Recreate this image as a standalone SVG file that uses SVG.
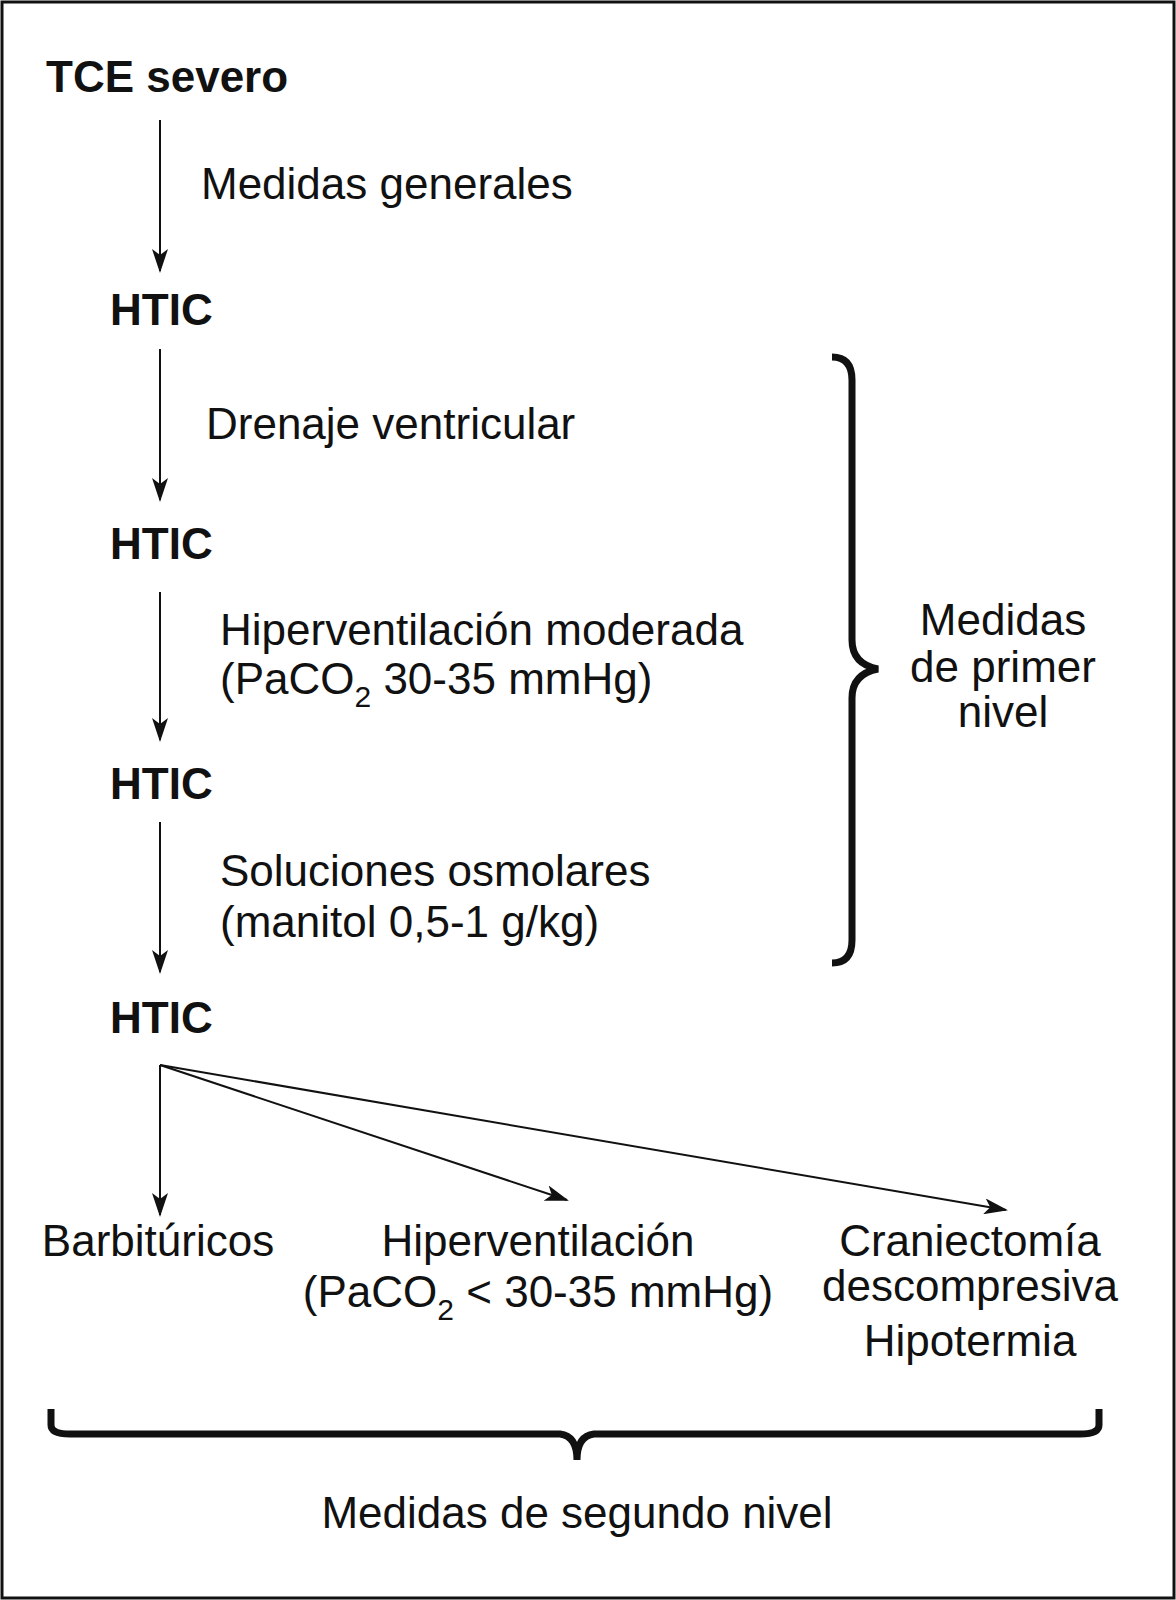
<svg xmlns="http://www.w3.org/2000/svg" width="1176" height="1600" viewBox="0 0 1176 1600">
<style>
text{font-family:"Liberation Sans",Arial,sans-serif;font-size:44px;fill:#111}
.b{font-weight:bold;font-size:44px}
.c{text-anchor:middle}
.l{stroke:#111;stroke-width:2;fill:none}
.br{stroke:#111;stroke-width:7;fill:none}
</style>
<defs><marker id="a" markerWidth="24" markerHeight="16" refX="22" refY="8" orient="auto" markerUnits="userSpaceOnUse"><path d="M0,0 L24,8 L0,16 L6,8 Z" fill="#111"/></marker></defs>
<rect x="2" y="2" width="1172" height="1596" fill="#fff" stroke="#111" stroke-width="3"/>
<g id="n1"><text class="b" x="46" y="92">TCE severo</text></g>
<g id="n2"><text class="b" x="110" y="325">HTIC</text></g>
<g id="n3"><text class="b" x="110" y="559">HTIC</text></g>
<g id="n4"><text class="b" x="110" y="799">HTIC</text></g>
<g id="n5"><text class="b" x="110" y="1033">HTIC</text></g>
<g id="labels">
<text x="201" y="199">Medidas generales</text>
<text x="206" y="439">Drenaje ventricular</text>
<text x="220" y="645">Hiperventilación moderada</text>
<text x="220" y="694">(PaCO<tspan font-size="30" dy="13">2</tspan><tspan dy="-13"> 30-35 mmHg)</tspan></text>
<text x="220" y="886">Soluciones osmolares</text>
<text x="220" y="937">(manitol 0,5-1 g/kg)</text>
</g>
<g id="n6"><text class="c" x="158" y="1256">Barbitúricos</text></g>
<g id="n7"><text class="c" x="538" y="1256">Hiperventilación</text>
<text class="c" x="538" y="1307">(PaCO<tspan font-size="30" dy="13">2</tspan><tspan dy="-13"> &lt; 30-35 mmHg)</tspan></text></g>
<g id="n8"><text class="c" x="970" y="1256">Craniectomía</text><text class="c" x="970" y="1301">descompresiva</text><text class="c" x="970" y="1356">Hipotermia</text></g>
<g id="g1"><path class="br" d="M832,357 Q852,357 852,380 L852,640 Q852,664 878,669 Q852,674 852,698 L852,940 Q852,963 832,963"/>
<text class="c" x="1003" y="635">Medidas</text><text class="c" x="1003" y="682">de primer</text><text class="c" x="1003" y="727">nivel</text></g>
<g id="g2"><path class="br" d="M51,1409 L51,1425 Q51,1434 70,1434 L560,1434 Q577,1436 577,1460 Q577,1436 594,1434 L1080,1434 Q1099,1434 1099,1425 L1099,1409"/>
<text class="c" x="577" y="1528">Medidas de segundo nivel</text></g>
<g id="connectors">
<line class="l" x1="160" y1="120" x2="160" y2="271" marker-end="url(#a)"/>
<line class="l" x1="160" y1="349" x2="160" y2="500" marker-end="url(#a)"/>
<line class="l" x1="160" y1="592" x2="160" y2="740" marker-end="url(#a)"/>
<line class="l" x1="160" y1="822" x2="160" y2="972" marker-end="url(#a)"/>
<line class="l" x1="160" y1="1065" x2="160" y2="1215" marker-end="url(#a)"/>
<line class="l" x1="160" y1="1065" x2="567" y2="1200" marker-end="url(#a)"/>
<line class="l" x1="160" y1="1065" x2="1006" y2="1210" marker-end="url(#a)"/>
</g>
</svg>
